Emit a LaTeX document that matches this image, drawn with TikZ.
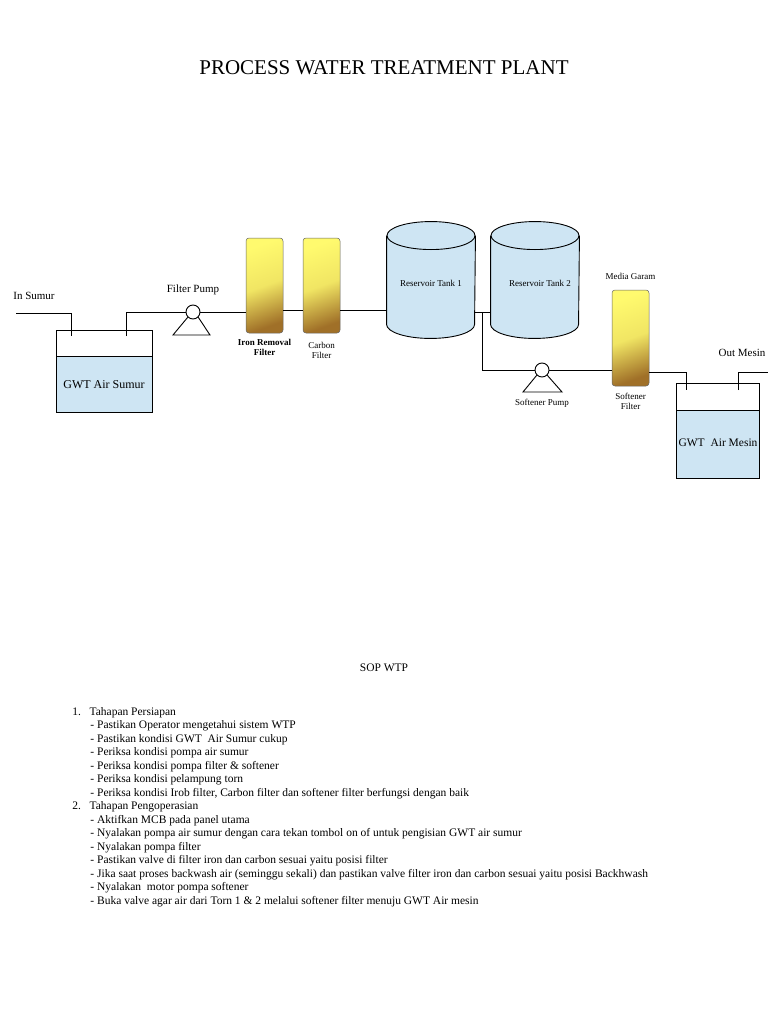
\documentclass[tikz,border=0pt]{standalone}
\usepackage{fontspec}
\setmainfont{Liberation Serif}
\usetikzlibrary{shapes.geometric,positioning}
\definecolor{water}{RGB}{206,229,243}
\definecolor{media}{RGB}{255,250,110}
\definecolor{rust}{RGB}{160,112,40}
\begin{document}
\begin{tikzpicture}[x=1pt,y=-1pt,line width=0.9pt,
	filter/.style={rectangle,draw=black!60,rounded corners=3pt,minimum width=37pt,inner sep=0pt,
		top color=media,bottom color=rust,middle color=media!85!rust,shading angle=20,line width=0.5pt},
	tankbox/.style={rectangle,minimum width=88pt,minimum height=88pt,inner sep=0pt},
	pump/.style={circle,draw,fill=white,minimum size=14pt,inner sep=0pt},
	lbl/.style={font=\fontsize{9}{10.5}\selectfont,align=center}]
	\useasboundingbox (0,0) rectangle (768,1024);
	\node at (384,68) {\fontsize{21}{24}\selectfont PROCESS WATER TREATMENT PLANT};

	% sumur tank
	\fill[water] (56,356) rectangle (152,412);
	\draw (56,356) -- (152,356);
	\node (sumur) [draw,rectangle,minimum width=96pt,minimum height=82pt,inner sep=0pt] at (104,371) {};
	\node at (104,385) {\fontsize{12}{14}\selectfont GWT Air Sumur};
	\node at (34,296) {\fontsize{11}{13}\selectfont In Sumur};
	\coordinate (in) at (16,313);
	\draw (in) -| (71,336);

	% filter pump
	\node (fpump) [pump] at (193,312) {};
	\draw (fpump.south west) -- (173,335) -- (210,335) -- (fpump.south east);
	\node [above=6pt of fpump] {\fontsize{11}{13}\selectfont Filter Pump};
	\draw (126,336) |- (fpump.west);

	% filters
	\node (iron) [filter,minimum height=95pt] at (264.5,285.5) {};
	\node (carbon) [filter,minimum height=95pt] at (321.5,285.5) {};
	\node [lbl,below=2pt of iron,font=\fontsize{9}{10.5}\selectfont\bfseries] {Iron Removal\\Filter};
	\node [lbl,below=5pt of carbon] {Carbon\\Filter};

	% reservoir tanks
	\node (tank1) [tankbox] at (431,280) {};
	\node (tank2) [tankbox] at (535,280) {};
	\foreach \t in {tank1,tank2}{
		\draw[fill=water] (\t.north west) -- (\t.south west)
			arc[start angle=180,end angle=360,x radius=44pt,y radius=14pt] -- (\t.north east);
		\draw[fill=water] (\t.north) ellipse[x radius=44pt,y radius=14pt];
	}
	\node [lbl] at (431,283) {Reservoir Tank 1};
	\node [lbl] at (540,283) {Reservoir Tank 2};

	\draw (fpump.east) -- (fpump.east -| iron.west);
	\draw (iron.east |- 0,310) -- (carbon.west |- 0,310);
	\draw (carbon.east |- 0,310) -- (tank1.west |- 0,310);
	\draw (tank1.east |- 0,312) -- (tank2.west |- 0,312);
	\coordinate (tee) at (482,312);

	% softener pump
	\node (spump) [pump] at (542,370) {};
	\draw (spump.south west) -- (523,392) -- (562,392) -- (spump.south east);
	\node [lbl,below=18pt of spump] {Softener Pump};
	\draw (tee) |- (spump.west);

	% softener filter
	\node (soft) [filter,minimum height=96pt] at (630.5,338) {};
	\node [lbl,above=6pt of soft] {Media Garam};
	\node [lbl,below=3pt of soft] {Softener\\Filter};
	\draw (spump.east) -- (spump.east -| soft.west);

	% mesin tank
	\fill[water] (676,410) rectangle (759,478);
	\draw (676,410) -- (759,410);
	\node (mesin) [draw,rectangle,minimum width=83pt,minimum height=95pt,inner sep=0pt] at (717.5,430.5) {};
	\node at (718,443) {\fontsize{11.5}{14}\selectfont GWT\ \ Air Mesin};
	\draw (soft.east |- 0,372) -| (686,390);
	\coordinate (out) at (768,372);
	\draw (738,390) |- (out);
	\node at (742,353) {\fontsize{11}{13}\selectfont Out Mesin};

	% SOP
	\node at (384,668) {\fontsize{11.5}{13}\selectfont SOP WTP};
	\node (sop) [anchor=north west,align=left,inner sep=0pt,font=\fontsize{11.5}{13.5}\selectfont] at (72,707) {%
		1.\hspace{8.5pt}Tahapan Persiapan\\
		\hspace{18pt}- Pastikan Operator mengetahui sistem WTP\\
		\hspace{18pt}- Pastikan kondisi GWT\ \ Air Sumur cukup\\
		\hspace{18pt}- Periksa kondisi pompa air sumur\\
		\hspace{18pt}- Periksa kondisi pompa filter \& softener\\
		\hspace{18pt}- Periksa kondisi pelampung torn\\
		\hspace{18pt}- Periksa kondisi Irob filter, Carbon filter dan softener filter berfungsi dengan baik\\
		2.\hspace{8.5pt}Tahapan Pengoperasian\\
		\hspace{18pt}- Aktifkan MCB pada panel utama\\
		\hspace{18pt}- Nyalakan pompa air sumur dengan cara tekan tombol on of untuk pengisian GWT air sumur\\
		\hspace{18pt}- Nyalakan pompa filter\\
		\hspace{18pt}- Pastikan valve di filter iron dan carbon sesuai yaitu posisi filter\\
		\hspace{18pt}- Jika saat proses backwash air (seminggu sekali) dan pastikan valve filter iron dan carbon sesuai yaitu posisi Backhwash\\
		\hspace{18pt}- Nyalakan\ \ motor pompa softener\\
		\hspace{18pt}- Buka valve agar air dari Torn 1 \& 2 melalui softener filter menuju GWT Air mesin};
\end{tikzpicture}
\end{document}
